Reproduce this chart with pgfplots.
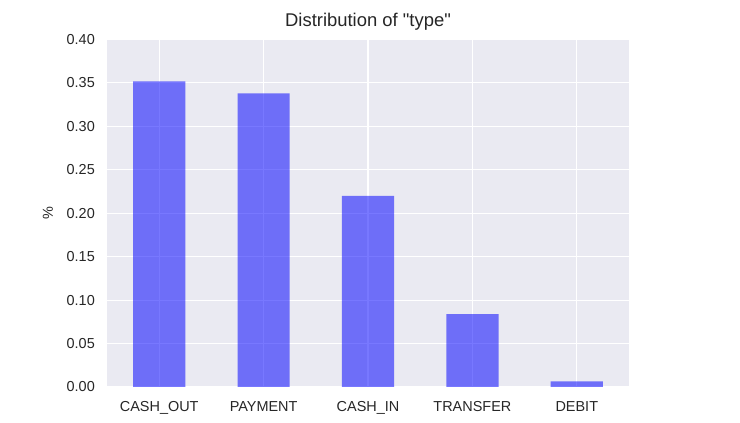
\documentclass[border=0pt]{standalone}
\usepackage{fontspec}
\setmainfont{Liberation Sans}
\usepackage{pgfplots}
\pgfplotsset{compat=1.18}
\definecolor{sbbg}{RGB}{234,234,242}
\definecolor{sbtext}{RGB}{38,38,38}
\begin{document}
\begin{tikzpicture}
\useasboundingbox (0,0) rectangle (740bp,423bp);
\begin{axis}[
    at={(107bp,36bp)}, anchor=south west,
    scale only axis, width=522bp, height=347.5bp,
    ybar, bar width=0.5,
    xmin=-0.5, xmax=4.5, ymin=0, ymax=0.4,
    xtick={0,1,2,3,4},
    xticklabels={CASH\_OUT,PAYMENT,CASH\_IN,TRANSFER,DEBIT},
    ytick={0,0.05,...,0.40},
    /pgf/number format/assume math mode=true,
    yticklabel={\pgfmathprintnumber[fixed,fixed zerofill,precision=2]{\tick}},
    major tick length=0pt,
    axis background/.style={fill=sbbg},
    axis line style={draw=none},
    grid=major, major grid style={white, line width=1.1bp},
    tick label style={font=\fontsize{14.5}{17}\selectfont, text=sbtext},
    yticklabel style={anchor=east, inner sep=0pt, xshift=-12bp},
    xticklabel style={anchor=north, inner sep=0pt, yshift=-14.5bp},
    title={Distribution of \textquotedbl type\textquotedbl},
    title style={at={(0.5,1)}, anchor=base, yshift=7.5bp, inner sep=0pt,
        font=\fontsize{18.5}{22}\selectfont, text=sbtext},
    ylabel={\%},
    ylabel style={at={(axis description cs:-0.113,0.5)}, anchor=center,
        font=\fontsize{14.5}{17}\selectfont, text=sbtext},
]
\addplot[fill=blue, fill opacity=0.53, draw=none] coordinates {
(0,0.3517)
(1,0.3381)
(2,0.2199)
(3,0.0838)
(4,0.0065)
};
\end{axis}
\end{tikzpicture}
\end{document}
